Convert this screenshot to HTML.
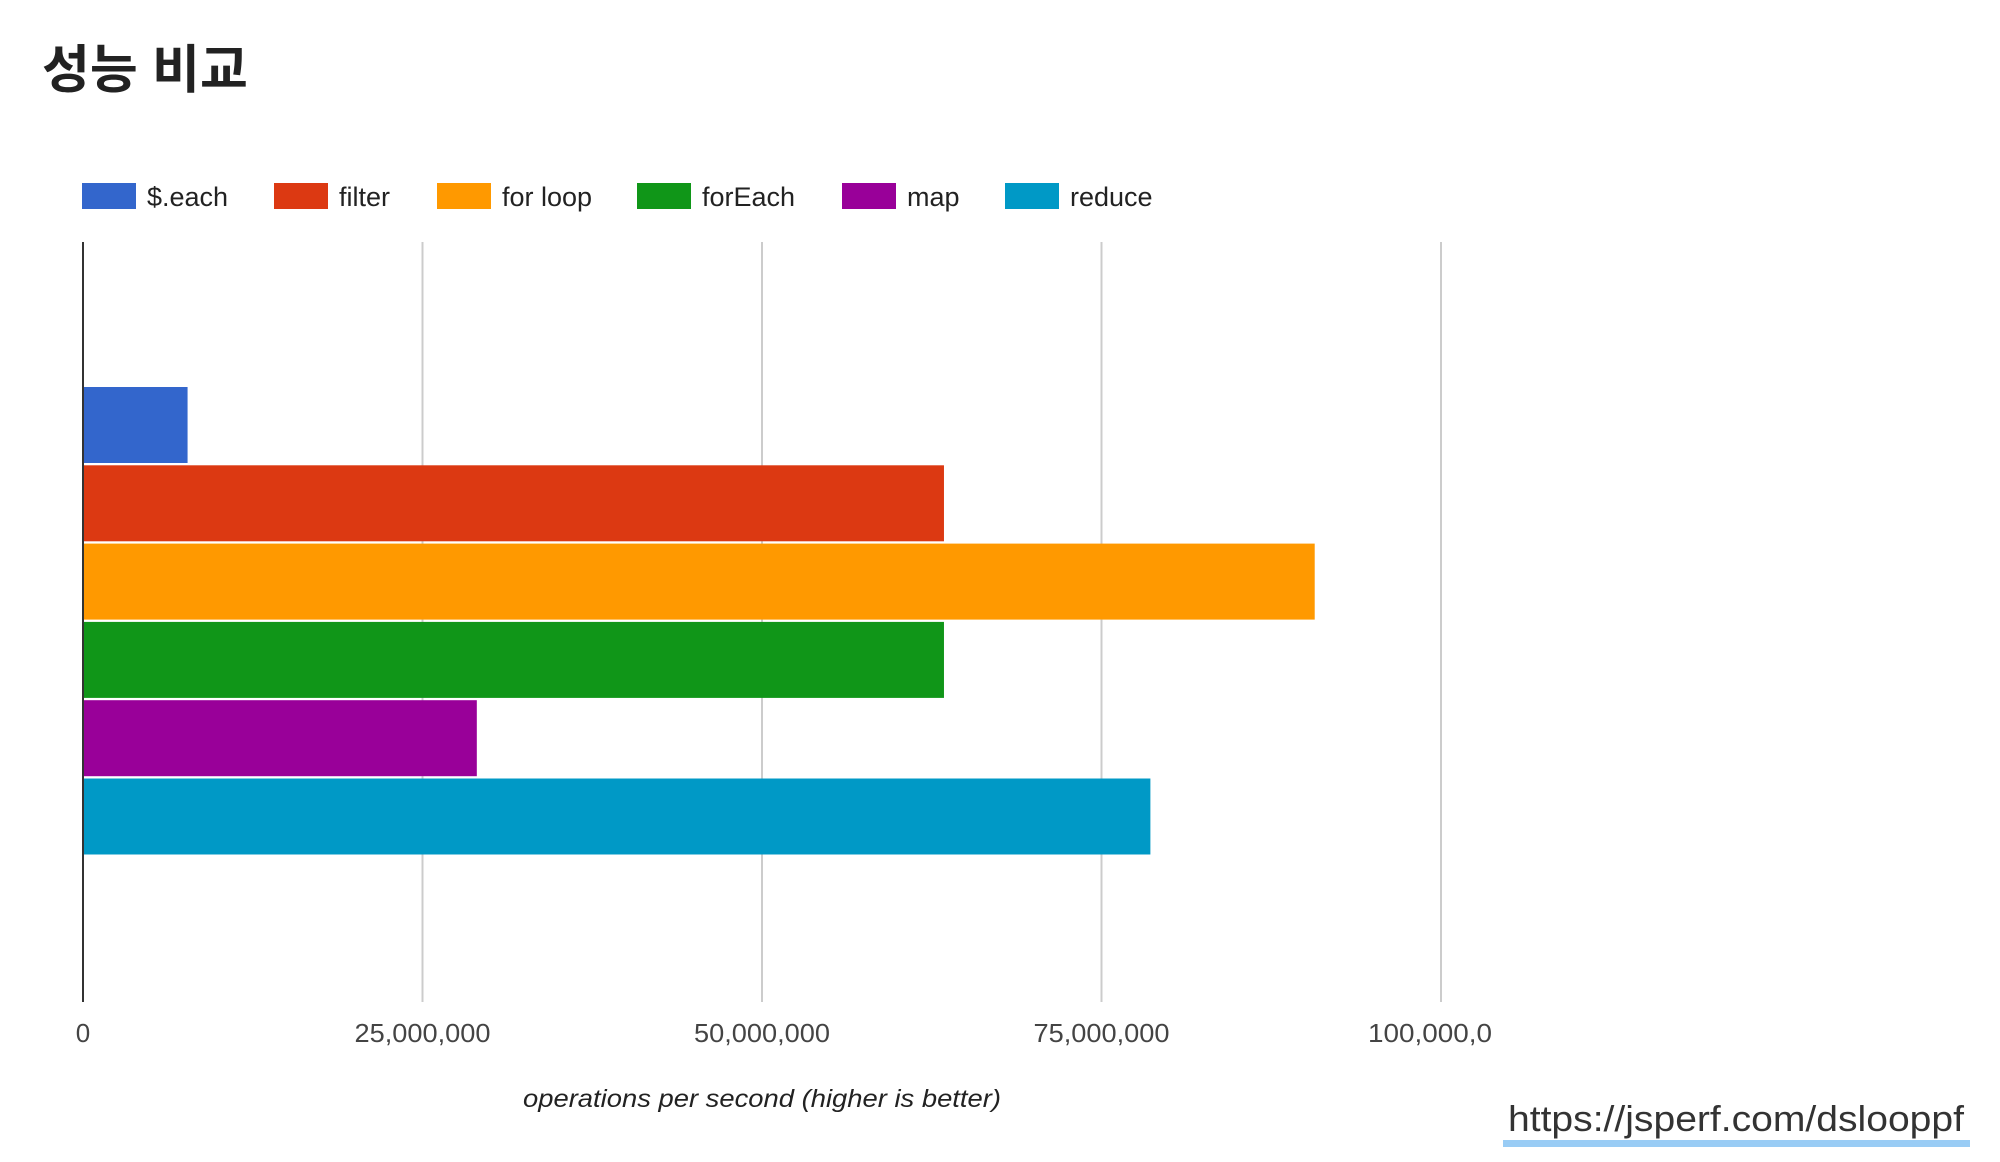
<!DOCTYPE html>
<html><head><meta charset="utf-8"><style>
body{margin:0;background:#fff;}
svg{display:block;font-family:"Liberation Sans","Noto Sans CJK KR",sans-serif;}
</style></head><body>
<svg id="chart" width="2000" height="1162" viewBox="0 0 2000 1162">
<text x="42" y="88" font-size="52" font-weight="bold" fill="#222">성능 비교</text>
<g id="grid"></g><g id="bars"></g><g id="legend"></g><g id="ticks"></g>
<line x1="83" y1="242" x2="83" y2="1002" stroke="#333" stroke-width="2"/>
<text x="762" y="1107" font-size="25" font-style="italic" fill="#222" text-anchor="middle" textLength="478" lengthAdjust="spacingAndGlyphs">operations per second (higher is better)</text>
<text x="1508" y="1131" font-size="36" fill="#333" textLength="456" lengthAdjust="spacingAndGlyphs">https://jsperf.com/dslooppf</text>
<rect x="1503" y="1140" width="467" height="7" fill="#99ccf5"/>
</svg>
<script>
const categories = ["$.each","filter","for loop","forEach","map","reduce"];
const values = [7700000,63400000,90700000,63400000,29000000,78600000];
const colors = ["#3366cc","#dc3912","#ff9900","#109618","#990099","#0099c6"];
const tickValues = [0,25000000,50000000,75000000,100000000];
const tickLabels = ["0","25,000,000","50,000,000","75,000,000","100,000,0"];
const NS="http://www.w3.org/2000/svg";
const x0=83, x1=1441, vmax=100000000;
function xs(v){return x0+(x1-x0)*v/vmax;}
const barTop=387, pitch=78.3, barH=76;
function mk(t,a,p){const e=document.createElementNS(NS,t);for(const k in a)e.setAttribute(k,a[k]);p.appendChild(e);return e;}
const grid=document.getElementById('grid'),ticks=document.getElementById('ticks');
tickValues.forEach((v,i)=>{
  if(v>0){const l=mk('line',{x1:xs(v),x2:xs(v),y1:242,y2:1002,stroke:'#cccccc','stroke-width':2},grid);
  
  }
  const t=mk('text',{x:xs(v),y:1042,'font-size':26,fill:'#444','text-anchor':i===4?'start':'middle'},ticks);
  if(i===4){t.setAttribute('x',xs(v)-73);t.setAttribute('textLength',124);t.setAttribute('lengthAdjust','spacingAndGlyphs');}
  else if(i>0){t.setAttribute('textLength',136);t.setAttribute('lengthAdjust','spacingAndGlyphs');}
  t.textContent=tickLabels[i];
  
  
});
const bars=document.getElementById('bars');
values.forEach((v,i)=>{
  const r=mk('rect',{x:x0,y:barTop+i*pitch,width:xs(v)-x0,height:barH,fill:colors[i]},bars);
  
  
});
const legend=document.getElementById('legend');
const lx=[82,274,437,637,842,1005];
categories.forEach((c,i)=>{
  const g=mk('g',{},legend);
  
  
  mk('rect',{x:lx[i],y:183,width:54,height:26,fill:colors[i]},g);
  const t=mk('text',{x:lx[i]+65,y:206,'font-size':27,fill:'#222'},g);
  t.textContent=c;
});
</script>
</body></html>
